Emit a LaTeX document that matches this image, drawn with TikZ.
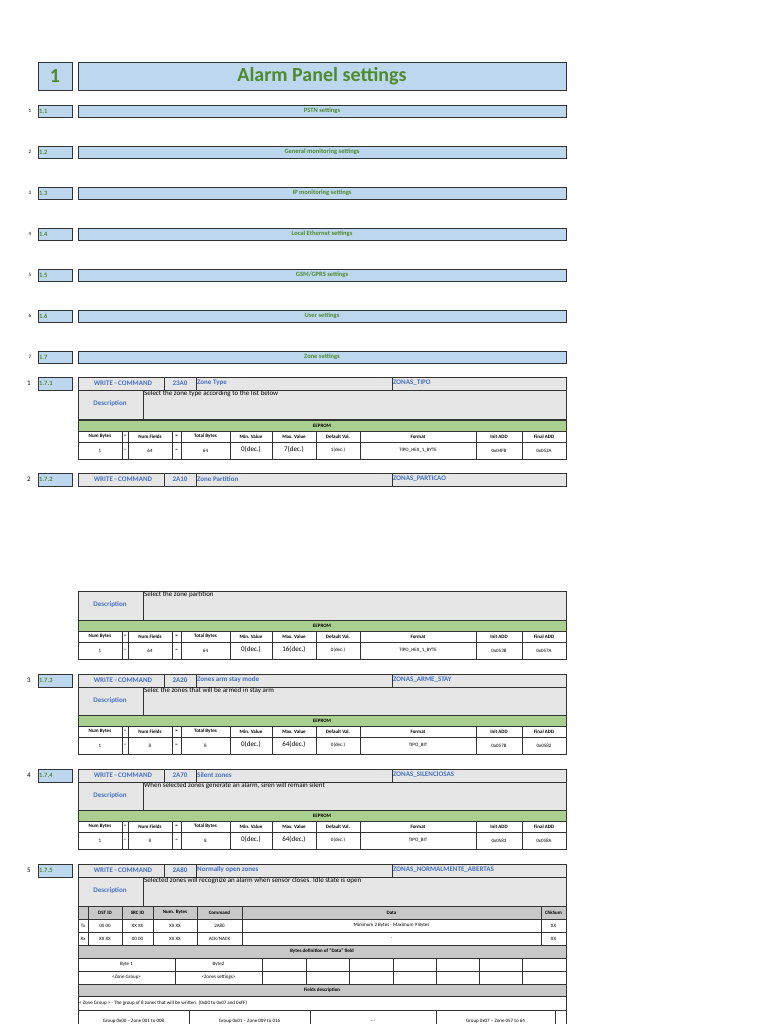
\documentclass[tikz,border=0pt]{standalone}
\usepackage{fontspec}
\setmainfont{Carlito}
\definecolor{lb}{HTML}{BDD7EE}
\definecolor{gt}{HTML}{4E8A2E}
\definecolor{gy}{HTML}{E6E6E6}
\definecolor{gf}{HTML}{A9D08E}
\definecolor{bt}{HTML}{4472C4}
\definecolor{dg}{HTML}{C8C8C8}
\newcommand\fs[1]{\fontsize{#1}{#1}\selectfont}
\newcommand\cell[7][]{\draw[bd,fill=#6] (#2,#3) rectangle (#4,#5);
  \node[txt,#1] at ({(#2+#4)/2},{(#3+#5)/2}) {#7};}
\newcommand\sect[4]{% y num label idx
  \node[font=\fs{5}] at (30,#1) {#4};
  \draw[bd,fill=lb] (38,#1-6) rectangle (72,#1+6);
  \node[anchor=west,font=\fs{6.5}\bfseries,text=gt,inner sep=1pt] at (38,#1) {#2};
  \draw[bd,fill=lb] (78,#1-6) rectangle (566,#1+6);
  \node[font=\fs{6.5}\bfseries,text=gt] at (322,#1) {#3};}
\newcommand\hdr[6]{% y idx num cmd name zonas
  \node[font=\fs{7}] at (29,#1+6.5) {#2};
  \draw[bd,fill=lb] (38,#1) rectangle (72,#1+13);
  \node[anchor=west,font=\fs{6.5}\bfseries,text=gt,inner sep=1pt] at (38,#1+6.5) {#3};
  \draw[bd,fill=gy] (78,#1) rectangle (566,#1+13);
  \foreach \xx in {164,196,392} \draw[bd] (\xx,#1) -- (\xx,#1+13);
  \node[font=\fs{7}\bfseries,text=bt] at (123,#1+6) {WRITE - COMMAND};
  \node[font=\fs{7}\bfseries,text=bt] at (180,#1+6) {#4};
  \node[anchor=west,font=\fs{7}\bfseries,text=bt,inner sep=1pt] at (196,#1+6) {#5};
  \node[anchor=west,font=\fs{7}\bfseries,text=bt,inner sep=1pt] at (392,#1+6) {#6};}
\newcommand\descr[2]{%
  \draw[bd,fill=gy] (78,#1) rectangle (143,#1+29);
  \node[font=\fs{7}\bfseries,text=bt] at (110,#1+14) {Description};
  \draw[bd,fill=gy] (143,#1) rectangle (566,#1+29);
  \node[anchor=north west,font=\fs{7},inner sep=1pt] at (143,#1-1) {#2};}
\newcommand\eeprom[9]{%
  \draw[bd,fill=gf] (78,#1) rectangle (566,#1+11);
  \node[font=\fs{5}\bfseries] at (322,#1+5.5) {EEPROM};
  \foreach \a/\b/\t in {78/122/Num Bytes,122/128/*,128/172/Num Fields,172/181/=,181/230/Total Bytes,230/272/Min. Value,272/316/Max. Value,316/360/Default Val.,360/476/Format,476/522/Init ADD,522/566/Final ADD}
    {\draw[bd,fill=white] (\a,#1+11) rectangle (\b,#1+22);
     \node[font=\fs{5}\bfseries] at ({(\a+\b)/2},#1+16.5) {\t};
     \draw[bd] (\a,#1+22) rectangle (\b,#1+39);}
  \foreach \a/\t in {100/1,125/*,150/#2,176.5/=,205.5/#3,338/#6,418/#7,499/#8,544/#9}
    \node[font=\fs{5}] at (\a,#1+30.5) {\t};
  \node[font=\fs{7}] at (251,#1+29.5) {#4};
  \node[font=\fs{7}] at (294,#1+29.5) {#5};}
\begin{document}
\begin{tikzpicture}[x=1pt,y=-1pt,bd/.style={draw=black!80,line width=0.5pt},txt/.style={font=\fs{5},inner sep=0pt}]
\useasboundingbox[fill=white] (0,0) rectangle (768,1024);
% title
\draw[bd,line width=0.8pt,fill=lb] (38,62) rectangle (72,90);
\node[font=\fs{20}\bfseries,text=gt] (t1) at (55,76) {1};
\draw[bd,line width=0.8pt,fill=lb] (78,62) rectangle (566,90);
\node[font=\fs{20}\bfseries,text=gt] (t2) at (322,76) {Alarm Panel settings};
\sect{111}{1.1}{PSTN settings}{1}
\sect{152}{1.2}{General monitoring settings}{2}
\sect{193}{1.3}{IP monitoring settings}{3}
\sect{234}{1.4}{Local Ethernet settings}{4}
\sect{275}{1.5}{GSM/GPRS settings}{5}
\sect{316}{1.6}{User settings}{6}
\sect{357}{1.7}{Zone settings}{7}
% 1.7.1
\hdr{377}{1}{1.7.1}{23A0}{Zone Type}{ZONAS\_TIPO}
\descr{390}{Select the zone type according to the list below}
\eeprom{420}{64}{64}{0(dec.)}{7(dec.)}{1(dec.)}{TIPO\_HEX\_1\_BYTE}{0x04FB}{0x053A}
% 1.7.2
\hdr{473}{2}{1.7.2}{2A10}{Zone Partition}{ZONAS\_PARTICAO}
\descr{591}{Select the zone partition}
\eeprom{620}{64}{64}{0(dec.)}{16(dec.)}{0(dec.)}{TIPO\_HEX\_1\_BYTE}{0x053B}{0x057A}
% 1.7.3
\hdr{674}{3}{1.7.3}{2A20}{Zones arm stay mode}{ZONAS\_ARME\_STAY}
\descr{687}{Selec the zones that will be armed in stay arm}
\eeprom{715}{8}{8}{0(dec.)}{64(dec.)}{0(dec.)}{TIPO\_BIT}{0x057B}{0x0582}
% 1.7.4
\hdr{769}{4}{1.7.4}{2A70}{Silent zones}{ZONAS\_SILENCIOSAS}
\descr{782}{When selected zones generate an alarm, siren will remain silent}
\eeprom{810}{8}{8}{0(dec.)}{64(dec.)}{0(dec.)}{TIPO\_BIT}{0x0583}{0x058A}
% 1.7.5
\hdr{864}{5}{1.7.5}{2A80}{Normally open zones}{ZONAS\_NORMALMENTE\_ABERTAS}
\descr{877}{Selected zones will recognize an alarm when sensor closes. Idle state is open}
\foreach \a/\b/\t in {78/88/{},88/122/{DST ID},122/153/{SRC ID},153/197/{Num. Bytes},197/242/{Command},242/541/{Data},541/566/{ChkSum}}
  {\cell[font=\fs{5}\bfseries]{\a}{906}{\b}{919}{dg}{\t}}
\foreach \a/\b/\t/\u in {78/88/{Tx}/{Rx},88/122/{00 00}/{XX XX},122/153/{XX XX}/{00 00},153/197/{XX XX}/{XX XX},197/242/{2A80}/{ACK/NACK},242/541/{Minimum 2 Bytes - Maximum 9 Bytes}/{-},541/566/{XX}/{XX}}
  {\cell{\a}{919}{\b}{932}{white}{\t}\cell{\a}{932}{\b}{945}{white}{\u}}
\cell[font=\fs{5}\bfseries]{78}{945}{566}{958}{dg}{Bytes definition of "Data" field}
\foreach \a/\b/\t/\u in {78/175/{Byte 1}/{<Zone Group>},175/262/{Byte2}/{<Zones settings>},262/306/{}/{},306/349/{}/{},349/393/{}/{},393/436/{}/{},436/479/{}/{},479/522/{}/{},522/566/{}/{}}
  {\cell{\a}{958}{\b}{971}{white}{\t}\cell{\a}{971}{\b}{984}{white}{\u}}
\cell[font=\fs{5}\bfseries]{78}{984}{566}{996}{dg}{Fields description}
\draw[bd,fill=white] (78,996) rectangle (566,1010);
\node[anchor=west,txt] at (79,1003) {< Zone Group > - The group of 8 zones that will be written. (0x00 to 0x07 and 0xFF)};
\foreach \a/\b/\t in {78/189/{Group 0x00 -- Zone 001 to 008},189/310/{Group 0x01 -- Zone 009 to 016},310/436/{\dots},436/555/{Group 0x07 -- Zone 057 to 64},555/566/{}}
  {\cell{\a}{1010}{\b}{1030}{white}{}
   \node[txt] at ({(\a+\b)/2},1021) {\t};}
\end{tikzpicture}
\end{document}
